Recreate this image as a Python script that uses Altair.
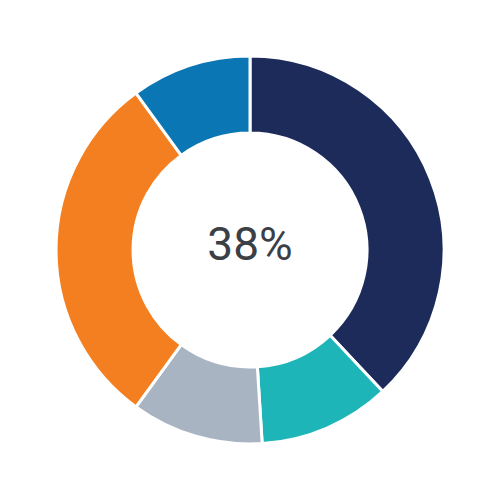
import altair as alt
import pandas as pd

categories = ["A", "B", "C", "D", "E"]
values = [38, 11, 11, 30, 10]
colors = ["#1c2b5a", "#1db5b8", "#a9b4c3", "#f47f20", "#0a76b4"]
center_label = ["38%"]

df = pd.DataFrame({"cat": categories, "val": values, "order": list(range(len(values)))})

arc = alt.Chart(df).mark_arc(outerRadius=194, innerRadius=117, stroke="white", strokeWidth=3).encode(
    theta=alt.Theta("val:Q", stack=True),
    order=alt.Order("order:Q"),
    color=alt.Color("cat:N", scale=alt.Scale(domain=categories, range=colors), legend=None),
)

text = alt.Chart(pd.DataFrame({"t": center_label})).mark_text(
    fontSize=46, font="Roboto", color="#3a4046", baseline="middle", align="center", dy=-4
).encode(text="t:N")

chart = alt.layer(arc, text).properties(
    width=484, height=484, padding=0, autosize=alt.AutoSizeParams(type="none")
).configure_view(stroke=None)

chart.save("out.html", embed_options={"renderer": "svg", "actions": False})
